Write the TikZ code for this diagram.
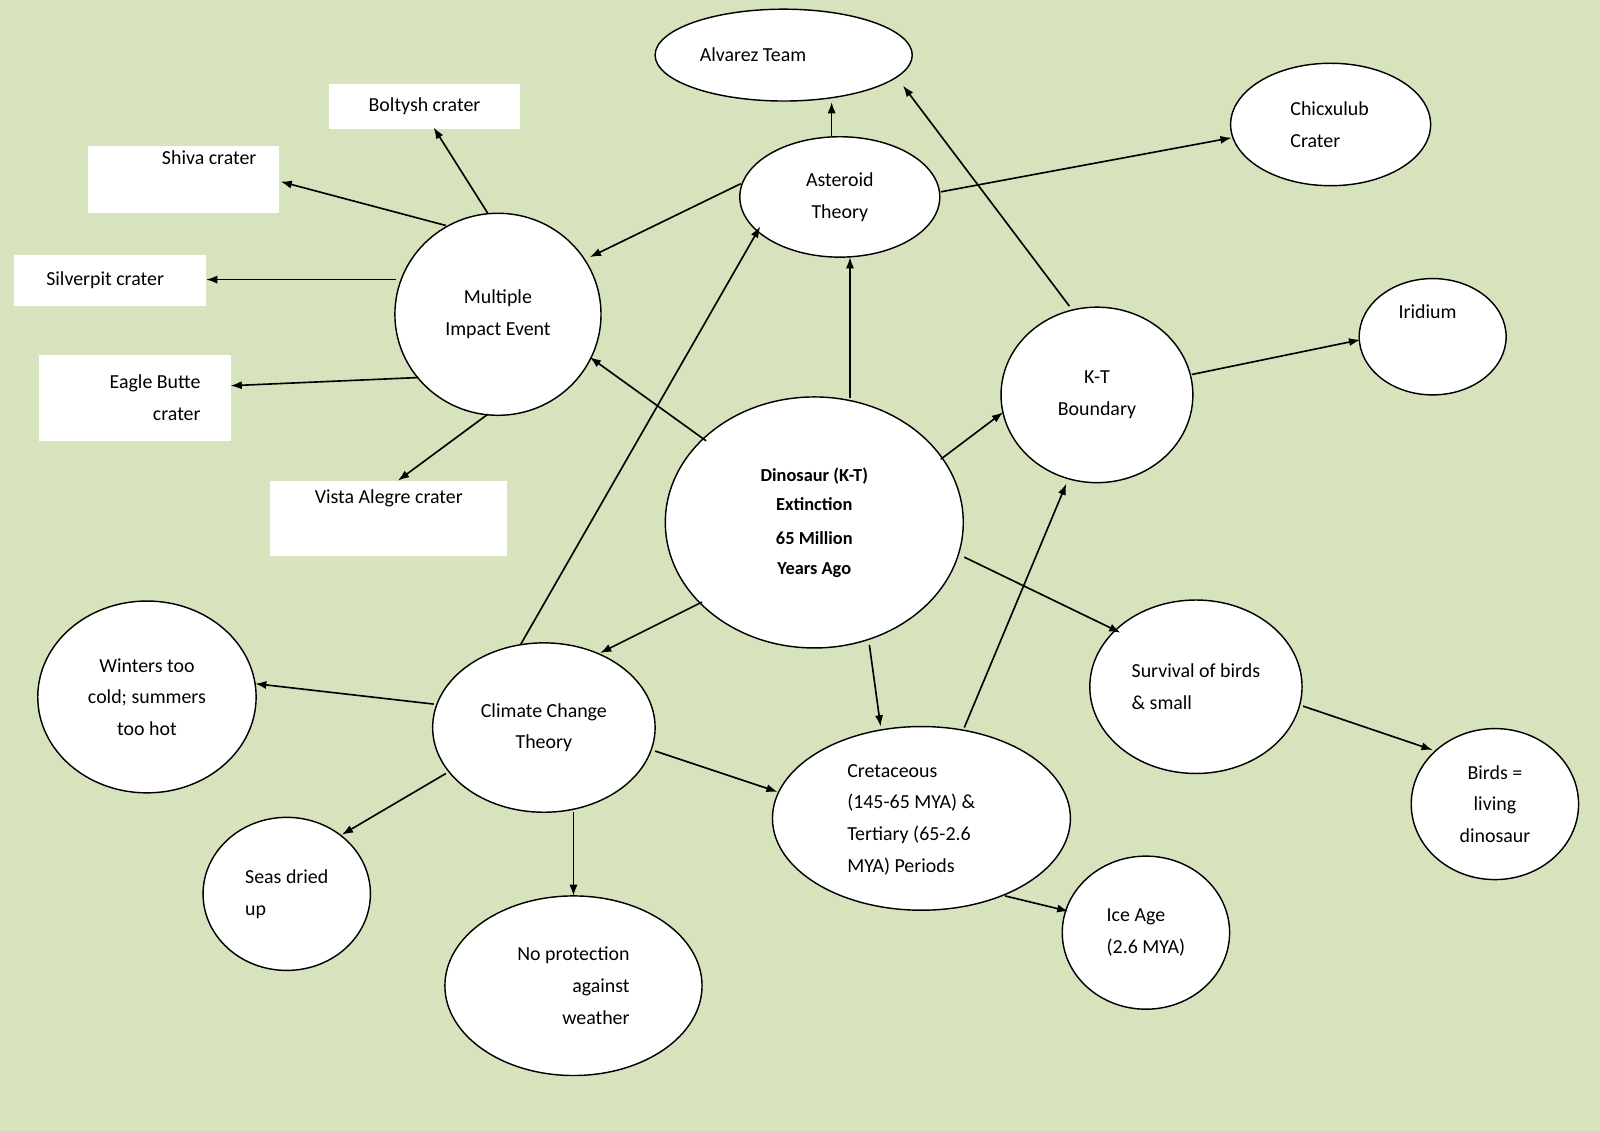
\documentclass[tikz,border=0pt]{standalone}
\usepackage{fontspec}
\setmainfont{Carlito}
\usetikzlibrary{shapes.geometric,arrows.meta}
\definecolor{bg}{RGB}{214,227,188}
\begin{document}
\begin{tikzpicture}[x=1pt,y=-1pt,
 el/.style={ellipse,draw,fill=white,line width=1.4pt,inner sep=0pt,align=center,font=\fontsize{19.5}{31}\selectfont},
 bx/.style={rectangle,fill=white,inner sep=0pt,align=center,font=\fontsize{19.5}{31}\selectfont},
 ar/.style={-{Latex[length=11pt,width=8pt]},line width=1.6pt}]
\fill[bg] (0,0) rectangle (1568,1108);
\useasboundingbox (0,0) rectangle (1568,1108);
\node[el,minimum width=252,minimum height=90] (alv) at (768,54) {\hspace*{-60pt}Alvarez Team};
\node[bx,minimum width=187,minimum height=44] (bol) at (416,104) {Boltysh crater};
\node[bx,minimum width=187,minimum height=65] (shi) at (180,176) {\hspace*{50pt}Shiva crater\\[12pt]};
\node[bx,minimum width=188,minimum height=50] (sil) at (108,275) {\hspace*{-10pt}Silverpit crater};
\node[bx,minimum width=188,minimum height=84,align=right] (eag) at (132,390) {\hspace*{40pt}Eagle Butte\\crater};
\node[bx,minimum width=232,minimum height=73] (vis) at (381,508) {Vista Alegre crater\\[12pt]};
\node[el,minimum width=196,minimum height=118] (ast) at (823,193) {Asteroid\\Theory};
\node[el,minimum width=196,minimum height=120,align=left] (chi) at (1304,122) {Chicxulub\\Crater\hspace*{30pt}};
\node[el,minimum width=202,minimum height=198] (mul) at (488,308) {Multiple\\Impact Event};
\node[el,minimum width=188,minimum height=172] (kt) at (1075,387) {K-T\\Boundary};
\node[el,minimum width=144,minimum height=114] (iri) at (1404,330) {\hspace*{-10pt}Iridium\\[18pt]};
\node[el,minimum width=292,minimum height=246,font=\fontsize{18}{29}\selectfont\bfseries] (dino) at (798,512) {Dinosaur (K-T)\\Extinction\\[4pt]65 Million\\Years Ago};
\node[el,minimum width=208,minimum height=170,align=left] (sur) at (1172,673) {Survival of birds\\\& small\hspace*{40pt}};
\node[el,minimum width=164,minimum height=148] (bir) at (1465,788) {Birds =\\living\\dinosaur};
\node[el,minimum width=214,minimum height=188] (win) at (144,683) {Winters too\\cold; summers\\too hot};
\node[el,minimum width=218,minimum height=166] (cli) at (533,713) {Climate Change\\Theory};
\node[el,minimum width=292,minimum height=180,align=left] (cre) at (903,802) {\hspace*{-20pt}\begin{tabular}{@{}l@{}}Cretaceous\\(145-65 MYA) \&\\Tertiary (65-2.6\\MYA) Periods\end{tabular}};
\node[el,minimum width=164,minimum height=150,align=left] (sea) at (281,876) {Seas dried\\up\hspace*{60pt}};
\node[el,minimum width=252,minimum height=176,align=right] (nop) at (562,966) {No protection\\against\\weather};
\node[el,minimum width=164,minimum height=150,align=left] (ice) at (1123,914) {Ice Age\\(2.6 MYA)};
\draw[ar] (815,133) -- (815,100);
\draw[ar] (1048,300) -- (885,84);
\draw[ar] (922,188) -- (1207,135);
\draw[ar] (726,180) -- (578,252);
\draw[ar] (478,209) -- (425,125);
\draw[ar] (437,221) -- (275,178);
\draw[ar] (388,274) -- (202,274);
\draw[ar] (410,370) -- (226,378);
\draw[ar] (478,406) -- (390,471);
\draw[ar] (692,432) -- (578,350);
\draw[ar] (833,390) -- (833,252);
\draw[ar] (922,450) -- (983,404);
\draw[ar] (1168,367) -- (1333,333);
\draw[ar] (945,546) -- (1098,620);
\draw[ar] (1277,692) -- (1404,735);
\draw[ar] (688,590) -- (588,640);
\draw[ar] (852,632) -- (863,712);
\draw[ar] (945,713) -- (1045,474);
\draw[ar] (985,878) -- (1047,893);
\draw[ar] (510,632) -- (745,222);
\draw[ar] (425,690) -- (250,670);
\draw[ar] (437,758) -- (335,818);
\draw[ar] (562,796) -- (562,878);
\draw[ar] (642,736) -- (762,776);
\end{tikzpicture}
\end{document}
